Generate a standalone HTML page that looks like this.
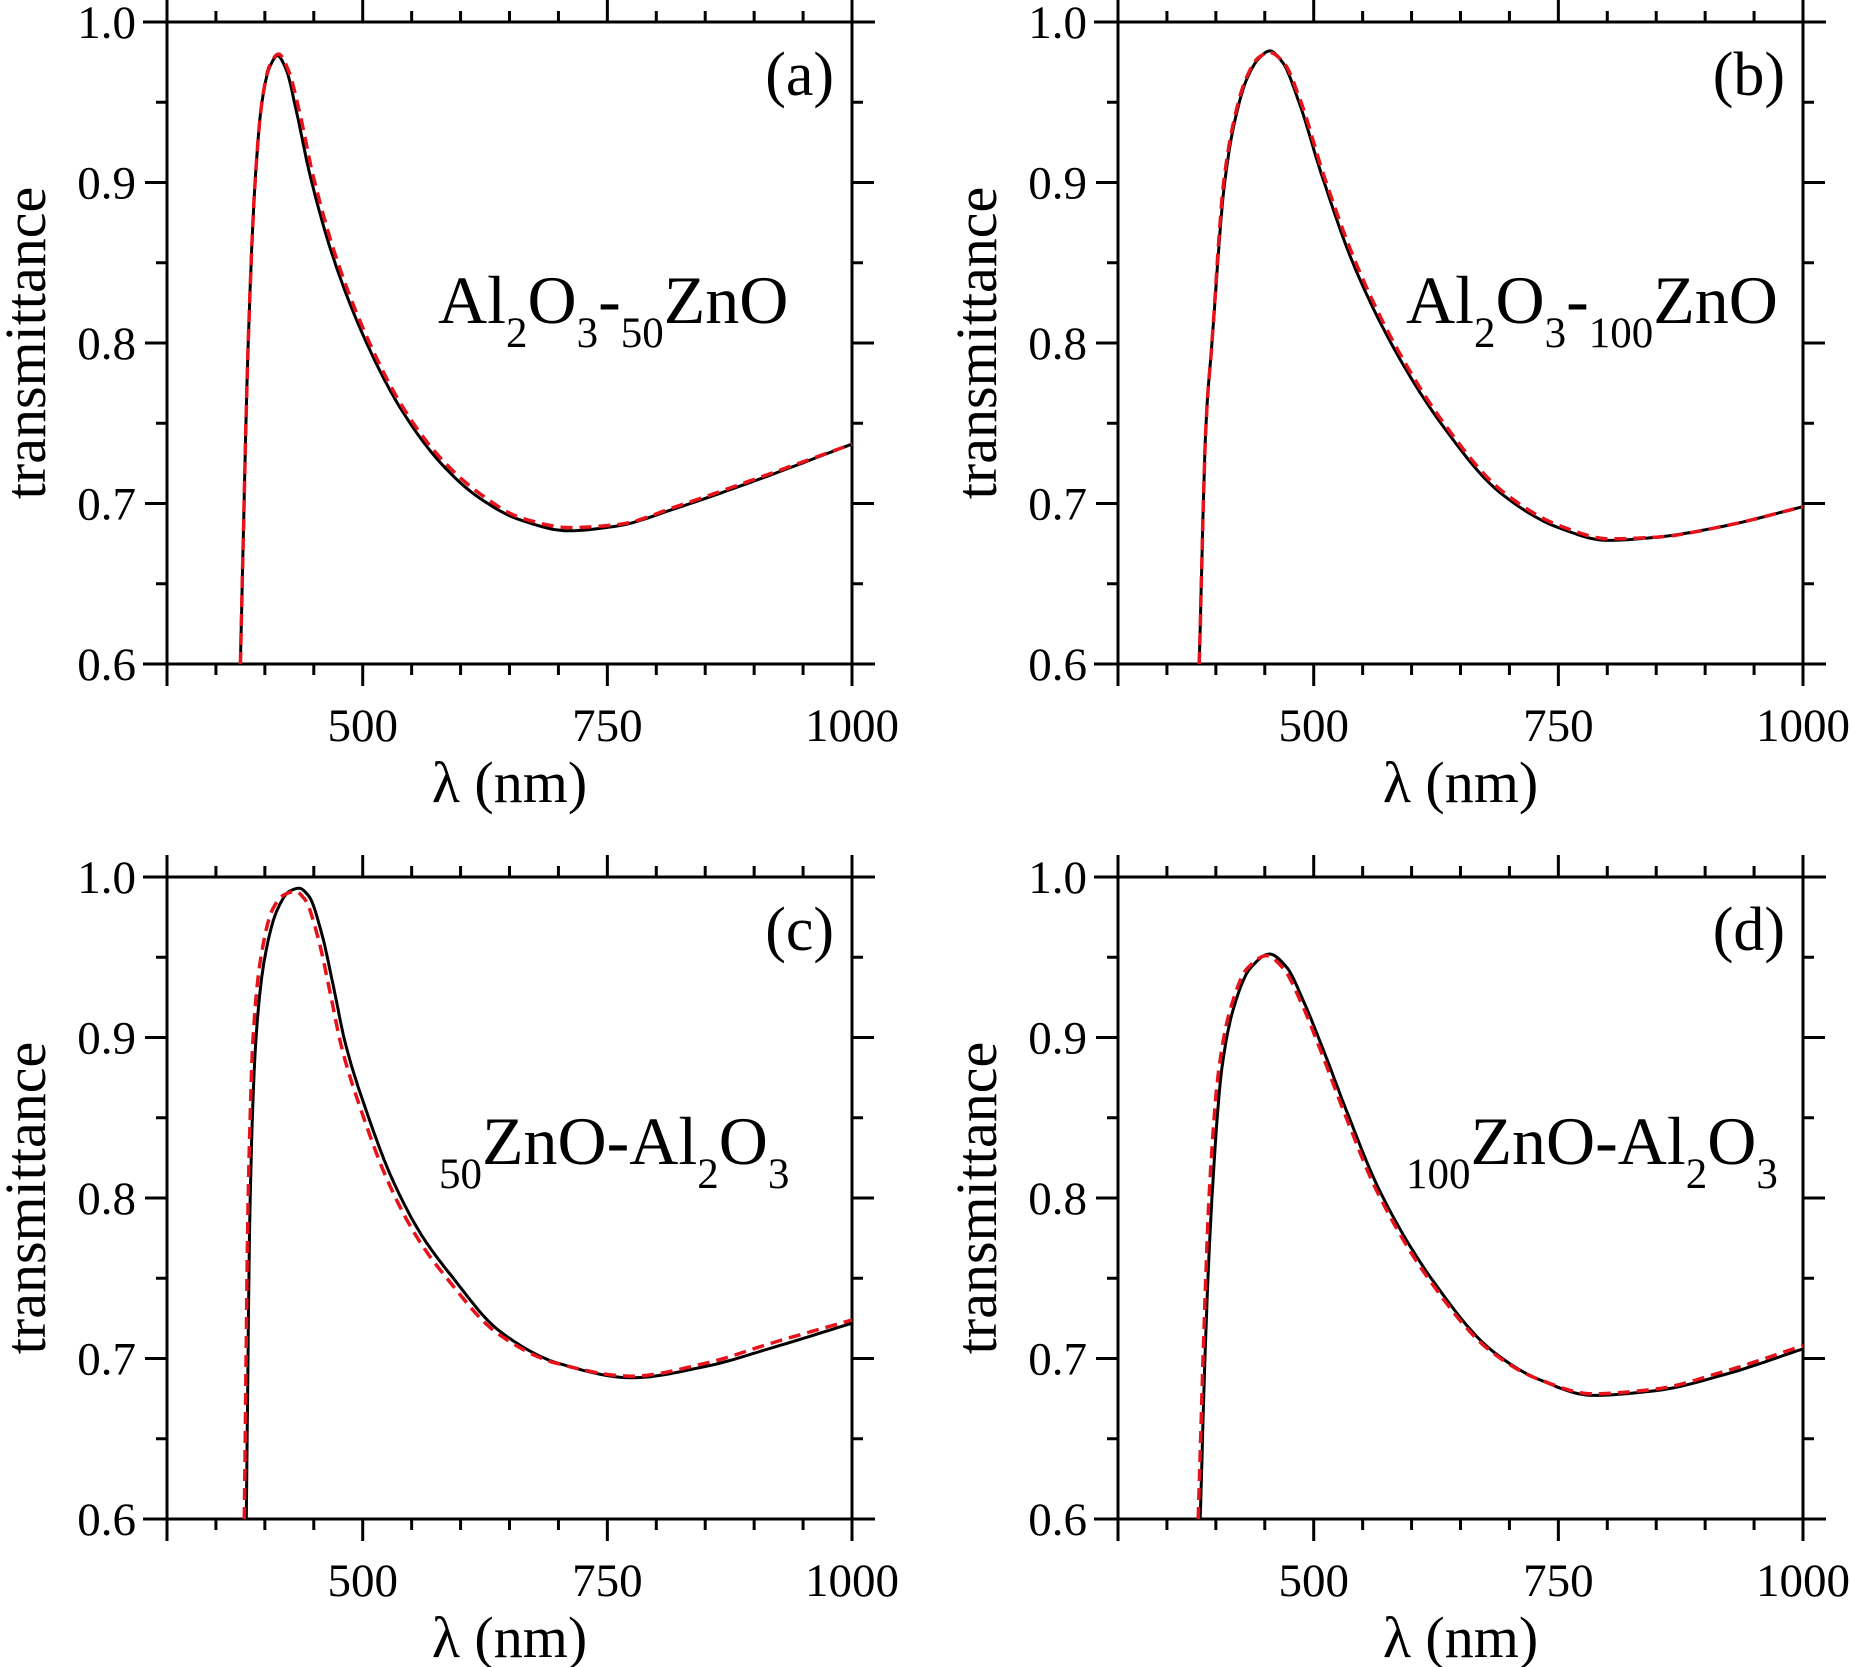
<!DOCTYPE html>
<html><head><meta charset="utf-8"><style>
html,body{margin:0;padding:0;background:#fff;}
svg{display:block;font-family:"Liberation Serif",serif;}
</style></head><body>
<svg id="s" width="1850" height="1667" viewBox="0 0 1850 1667" xmlns="http://www.w3.org/2000/svg"></svg>
<script>
const S=document.getElementById('s');let h='';
const W=685,H=642;
const panels=[
 {x:167,y:22,lab:'(a)',txt:'<tspan>Al</tspan><tspan dy="24" font-size="43">2</tspan><tspan dy="-24">O</tspan><tspan dy="24" font-size="43">3</tspan><tspan dy="-24">-</tspan><tspan dy="24" font-size="43">50</tspan><tspan dy="-24">ZnO</tspan>',tx:438,ty:323,
  k:[[375,.6],[383,.8],[390,.9],[397,.95],[405,.972],[413,.979],[422,.97],[432,.945],[446,.905],[470,.853],[504,.8],[540,.758],[580,.725],[618,.704],[660,.69],[710,.683],[760,.686],[820,.697],[900,.714],[1000,.737]],
  r:[[375,.6],[383,.8],[390,.9],[397,.95],[405,.973],[414,.98],[424,.97],[435,.945],[449,.905],[473,.853],[507,.8],[543,.758],[583,.726],[620,.706],[662,.691],[712,.685],[762,.687],[820,.698],[900,.715],[1000,.737]]},
 {x:1118,y:22,lab:'(b)',txt:'<tspan>Al</tspan><tspan dy="24" font-size="43">2</tspan><tspan dy="-24">O</tspan><tspan dy="24" font-size="43">3</tspan><tspan dy="-24">-</tspan><tspan dy="24" font-size="43">100</tspan><tspan dy="-24">ZnO</tspan>',tx:1406,ty:323,
  k:[[383,.6],[390,.75],[396,.8],[409,.9],[420,.94],[432,.965],[445,.978],[455,.982],[468,.975],[485,.95],[508,.905],[540,.85],[579,.8],[630,.75],[690,.707],[750,.685],[800,.677],[850,.679],[920,.686],[1000,.698]],
  r:[[383,.6],[390,.75],[396,.8],[408,.9],[419,.94],[431,.965],[444,.978],[455,.981],[469,.975],[487,.95],[510,.905],[543,.85],[582,.8],[633,.75],[692,.708],[752,.686],[802,.678],[850,.679],[920,.686],[1000,.698]]},
 {x:167,y:877,lab:'(c)',txt:'<tspan dy="24" font-size="43">50</tspan><tspan dy="-24">ZnO-Al</tspan><tspan dy="24" font-size="43">2</tspan><tspan dy="-24">O</tspan><tspan dy="24" font-size="43">3</tspan>',tx:439,ty:1164,
  k:[[381,.6],[385,.8],[391,.9],[400,.95],[413,.98],[425,.991],[435,.993],[445,.988],[458,.965],[470,.932],[482,.897],[505,.852],[530,.812],[560,.777],[590,.752],[640,.717],[700,.697],[775,.688],[850,.695],[920,.707],[1000,.722]],
  r:[[379,.6],[383,.8],[388,.9],[396,.95],[408,.98],[420,.989],[431,.991],[441,.986],[454,.963],[466,.93],[478,.895],[501,.85],[526,.81],[556,.775],[586,.75],[637,.716],[698,.697],[775,.689],[850,.697],[920,.71],[1000,.724]]},
 {x:1118,y:877,lab:'(d)',txt:'<tspan dy="24" font-size="43">100</tspan><tspan dy="-24">ZnO-Al</tspan><tspan dy="24" font-size="43">2</tspan><tspan dy="-24">O</tspan><tspan dy="24" font-size="43">3</tspan>',tx:1406,ty:1164,
  k:[[384,.6],[390,.72],[396,.8],[406,.88],[418,.918],[435,.943],[455,.952],[472,.944],[490,.922],[510,.892],[535,.852],[567,.805],[620,.75],[682,.705],[730,.687],[785,.677],[850,.68],[920,.69],[1000,.706]],
  r:[[382,.6],[388,.72],[393,.8],[403,.88],[415,.918],[432,.943],[452,.951],[469,.943],[487,.922],[507,.892],[532,.852],[564,.805],[617,.75],[680,.705],[730,.687],[785,.678],[850,.681],[920,.692],[1000,.708]]}
];
function path(pts,p){
 const X=pts.map(a=>a[0]),Y=pts.map(a=>a[1]),n=X.length;
 const d=[];for(let i=0;i<n-1;i++)d.push((Y[i+1]-Y[i])/(X[i+1]-X[i]));
 const m=new Array(n);m[0]=d[0];m[n-1]=d[n-2];
 for(let i=1;i<n-1;i++){ if(d[i-1]*d[i]<=0)m[i]=0; else{const h0=X[i]-X[i-1],h1=X[i+1]-X[i];const w1=2*h1+h0,w2=h1+2*h0;m[i]=(w1+w2)/(w1/d[i-1]+w2/d[i]);}}
 const fx=v=>p.x+(v-300)/700*W,fy=t=>p.y+H-(t-.6)/.4*H;
 let s='M'+fx(X[0]).toFixed(1)+' '+fy(Y[0]).toFixed(1);
 for(let i=0;i<n-1;i++){const hh=X[i+1]-X[i];
  for(let k=1;k<=12;k++){const t=k/12,t2=t*t,t3=t2*t;
   const y=(2*t3-3*t2+1)*Y[i]+(t3-2*t2+t)*hh*m[i]+(-2*t3+3*t2)*Y[i+1]+(t3-t2)*hh*m[i+1];
   s+=' L'+fx(X[i]+t*hh).toFixed(1)+' '+fy(y).toFixed(1);}}
 return s;
}
for(const p of panels){
 const L=p.x,R=p.x+W,T=p.y,B=p.y+H;
 let g='<g stroke="#000" stroke-width="3" fill="none">';
 g+=`<line x1="${L-24}" y1="${T}" x2="${R+23}" y2="${T}"/><line x1="${L-24}" y1="${B}" x2="${R+23}" y2="${B}"/>`;
 g+=`<line x1="${L}" y1="${T-22}" x2="${L}" y2="${B+22}"/><line x1="${R}" y1="${T-22}" x2="${R}" y2="${B+22}"/>`;
 for(let n=350;n<1000;n+=50){const x=L+(n-300)/700*W;const len=(n%250==0)?22:11;
  g+=`<line x1="${x}" y1="${B}" x2="${x}" y2="${B+len}"/><line x1="${x}" y1="${T}" x2="${x}" y2="${T-len}"/>`;}
 for(let i=1;i<8;i++){const y=B-i*H/8;const len=(i%2==0)?22:11;
  g+=`<line x1="${L}" y1="${y}" x2="${L-len}" y2="${y}"/><line x1="${R}" y1="${y}" x2="${R+len}" y2="${y}"/>`;}
 g+='</g>';
 g+=`<g font-size="47" fill="#000">`;
 ['0.6','0.7','0.8','0.9','1.0'].forEach((s,i)=>{g+=`<text x="${L-31}" y="${B-i*H/4+16}" text-anchor="end">${s}</text>`;});
 [[500,'500'],[750,'750'],[1000,'1000']].forEach(([n,s])=>{g+=`<text x="${L+(n-300)/700*W}" y="${B+77}" text-anchor="middle">${s}</text>`;});
 g+='</g>';
 g+=`<text x="${L+W/2}" y="${B+138}" font-size="58" text-anchor="middle">λ (nm)</text>`;
 g+=`<text transform="translate(${L-122},${T+H/2}) rotate(-90)" font-size="58" text-anchor="middle">transmittance</text>`;
 g+=`<text x="${R-18}" y="${T+73}" font-size="62" text-anchor="end">${p.lab}</text>`;
 g+=`<text x="${p.tx}" y="${p.ty}" font-size="68">${p.txt}</text>`;
 g+=`<path d="${path(p.k,p)}" fill="none" stroke="#000" stroke-width="3"/>`;
 g+=`<path d="${path(p.r,p)}" fill="none" stroke="#e8121a" stroke-width="3.5" stroke-dasharray="12 7"/>`;
 h+=g;
}
S.innerHTML=h;
</script>
</body></html>
